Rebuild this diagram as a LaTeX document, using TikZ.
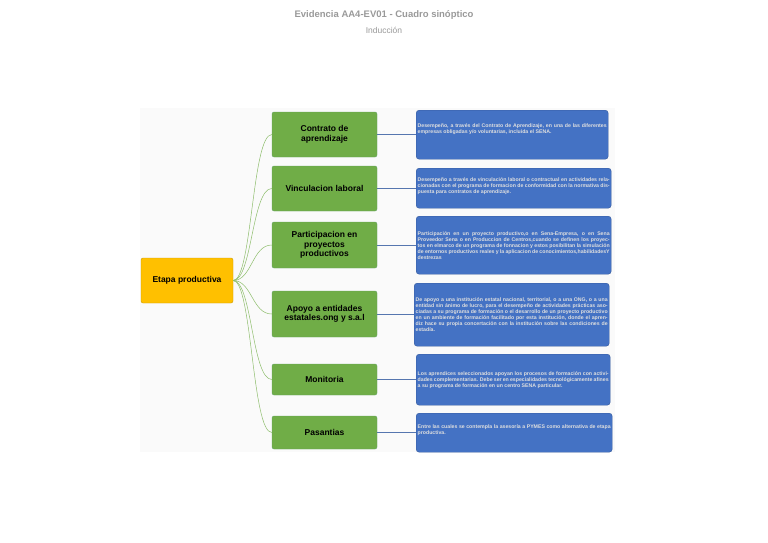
\documentclass[tikz,border=0pt]{standalone}
\usepackage{fontspec}
\setmainfont{Liberation Sans}
\begin{document}
\begin{tikzpicture}[x=1pt,y=-1pt,
 green/.style={draw=green!40!black!60!white,fill=grn,rounded corners=2pt,font=\bfseries\fontsize{8.5}{9.5}\selectfont,align=center,inner sep=2pt},
 blue/.style={draw=blu!80!black,fill=blu,rounded corners=3pt,text=gray!25,font=\bfseries\fontsize{5.2}{6}\selectfont,inner sep=1.5pt,anchor=north west},
 lnk/.style={draw=grn!80,line width=0.5pt},
 blnk/.style={draw=blu!70!gray,line width=0.5pt}]
\definecolor{grn}{HTML}{70AD47}
\definecolor{blu}{HTML}{4472C4}
\definecolor{yel}{HTML}{FFC000}
\useasboundingbox (0,0) rectangle (768,543);
\fill[gray!4] (140,108) rectangle (615,452);
\node[font=\bfseries\fontsize{9.5}{11}\selectfont,text=gray!80] (t) at (384,15) {Evidencia AA4-EV01 - Cuadro sinóptico};
\node[font=\fontsize{8.5}{10}\selectfont,text=gray!80] (s) at (384,30) {Inducción};
\node[draw=yel!80!black,fill=yel,rounded corners=2pt,minimum width=92pt,minimum height=45pt,font=\bfseries\fontsize{8.5}{10}\selectfont] (e) at (187,280.5) {Etapa productiva};
\foreach \n/\y/\h/\t in {g1/134.5/45/{Contrato de\\aprendizaje},g2/188.5/45/{Vinculacion laboral},g3/245/46/{Participacion en\\proyectos\\productivos},g4/314/46/{Apoyo a entidades\\estatales.ong y s.a.l},g5/379.5/31/{Monitoria},g6/432.5/33/{Pasantias}}
 \node[green,minimum width=105pt,minimum height=\h pt] (\n) at (324.5,\y) {\t};
\foreach \n in {g1,g2,g3,g4,g5,g6} \draw[lnk] (e.east) .. controls (252,280.5) and (252,0|-\n.west) .. (\n.west);
\newcommand{\bx}[6]{\node[blue,minimum width=#4-#2 pt,minimum height=#5-#3 pt,text width=#4-#2-3pt,align=justify] (#1) at (#2,#3) {#6};}
\bx{b1}{416}{110}{608}{159}{Desempeño, a través del Contrato de Aprendizaje, en una de las diferentes empresas obligadas y/o voluntarias, incluida el SENA.\par\vspace{12pt}}
\bx{b2}{416}{168}{611}{208}{Desempeño a través de vinculación laboral o contractual en actividades relacionadas con el programa de formacion de conformidad con la normativa dispuesta para contratos de aprendizaje.\par\vspace{5pt}}
\bx{b3}{416}{216}{611}{274}{Participación en un proyecto productivo,o en Sena-Empresa, o en Sena Proveedor Sena o en Produccion de Centros,cuando se definen los proyectos en elmarco de un programa de fonnacion y estos posibilitan la simulación de entornos productivos reales y la aplicacion de conocimientos,habilidadesY destrezas}
\bx{b4}{414}{283}{609}{346}{De apoyo a una institución estatal nacional, territorial, o a una ONG, o a una entidad sin ánimo de lucro, para el desempeño de actividades prácticas asociadas a su programa de formación o el desarrollo de un proyecto productivo en un ambiente de formación facilitado por esta institución, donde el aprendiz hace su propia concertación con la institución sobre las condiciones de estadía.}
\bx{b5}{416}{354}{610}{405}{Los aprendices seleccionados apoyan los procesos de formación con actividades complementarias. Debe ser en especialidades tecnológicamente afines a su programa de formación en un centro SENA particular.}
\bx{b6}{416}{413}{612}{452}{Entre las cuales se contempla la asesoría a PYMES como alternativa de etapa productiva.\par\vspace{6pt}}
\foreach \i in {1,...,6} \draw[blnk] (g\i.east) -- (b\i.west|-g\i.east);
\end{tikzpicture}
\end{document}
